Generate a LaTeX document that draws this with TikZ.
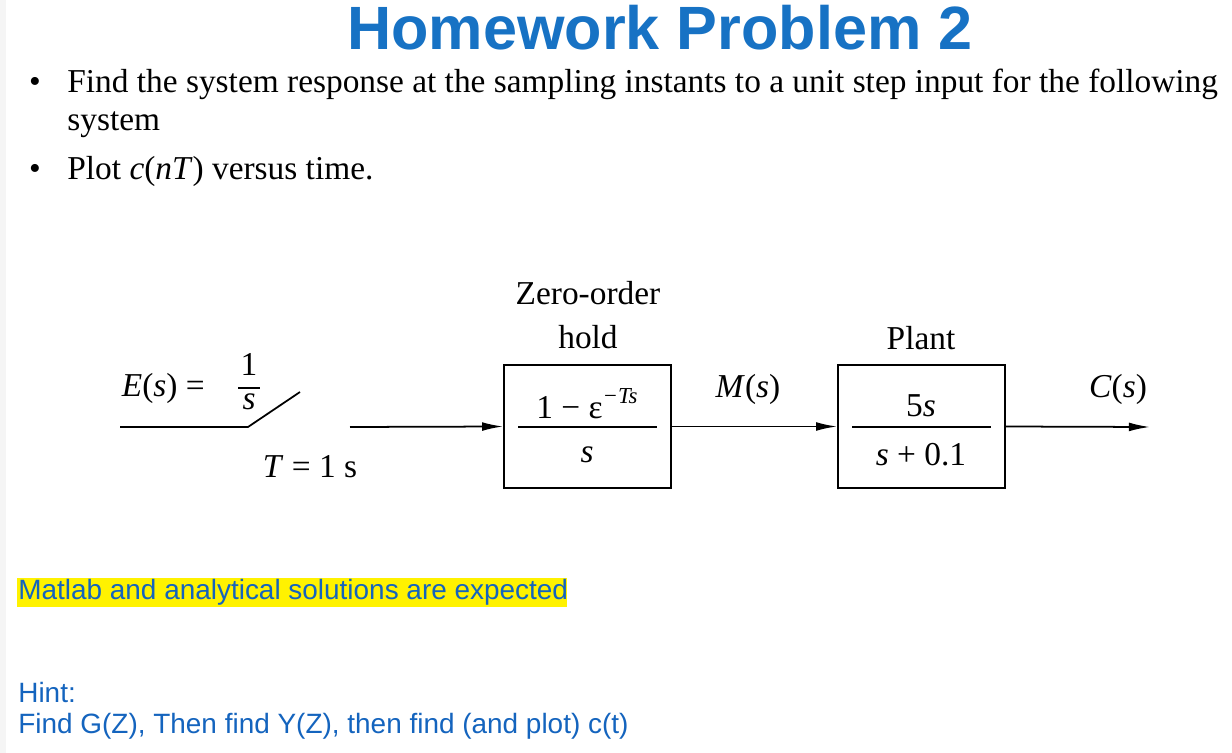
\documentclass[tikz,border=0pt]{standalone}
\usepackage{fontspec}
\setmainfont{Liberation Serif}
\setsansfont{Liberation Sans}
\usetikzlibrary{arrows.meta}
\definecolor{titleblue}{RGB}{23,114,196}
\definecolor{hintblue}{RGB}{20,100,190}
\tikzset{
  px/.style={x=0.02cm,y=-0.02cm},
  body/.style={font=\fontsize{19}{22}\selectfont, inner sep=0pt},
  diag/.style={font=\fontsize{19}{22}\selectfont, inner sep=0pt},
  blk/.style={draw, line width=1pt},
  wire/.style={line width=1pt},
  arr/.style={wire, -{Latex[length=12pt,width=5pt]}},
  note/.style={font=\sffamily\fontsize{15.9}{18}\selectfont, text=hintblue, inner sep=0pt, anchor=west}
}
\begin{document}
\begin{tikzpicture}[px]
\useasboundingbox (0,0) rectangle (1232,753);
\fill[white] (0,0) rectangle (1232,753);
\fill[gray!8] (0,0) rectangle (6,753);
\node[font=\sffamily\bfseries\fontsize{34.8}{38}\selectfont, text=titleblue, inner sep=0pt] (title) at (660,28) {Homework Problem 2};
\node[body] (b1) at (35,85) {•};
\node[body, anchor=west] (t1) at (67,84) {Find the system response at the sampling instants to a unit step input for the following};
\node[body, anchor=west] (t1b) at (67,125) {system};
\node[body] (b2) at (35,172) {•};
\node[body, anchor=west] (t2) at (67,171) {Plot \textit{c}(\textit{nT}) versus time.};
% diagram
\node[diag] (zoh1) at (588,293) {Zero-order};
\node[diag] (zoh2) at (588,337) {hold};
\node[diag] (plant) at (921,338) {Plant};
\node[blk, minimum width=3.34cm, minimum height=2.46cm] (box1) at (587.5,426.5) {};
\node[blk, minimum width=3.34cm, minimum height=2.46cm] (box2) at (921.5,426.5) {};
\draw[wire] (518,427) -- (657,427);
\draw[wire] (852,427) -- (991,427);
\node[diag] (n1) at (587,404) {1 − ε\raisebox{0.45em}{\fontsize{13}{14}\selectfont\textit{−Ts}}};
\node[diag] (d1) at (587,455) {\textit{s}};
\node[diag] (n2) at (921,406) {5\textit{s}};
\node[diag] (d2) at (921,455) {\textit{s} + 0.1};
\coordinate (in0) at (120,427);
\coordinate (sw0) at (248,427);
\coordinate (sw1) at (300,392);
\coordinate (in1) at (350,427);
\coordinate (out) at (1150,427);
\draw[wire] (in0) -- (sw0) -- (sw1);
\draw[arr] (in1) -- (box1.west);
\draw[arr] (box1.east) -- (box2.west);
\draw[arr] (box2.east) -- (out);
\node[diag, anchor=east] (E) at (205,388) {\textit{E}(\textit{s}) =};
\node[diag] (En) at (249,364) {1};
\draw[wire, line width=0.8pt] (238,388) -- (260,388);
\node[diag] (Ed) at (249,402) {\textit{s}};
\node[diag] (T) at (310,467) {\textit{T} = 1 s};
\node[diag] (M) at (748,389) {\textit{M}(\textit{s})};
\node[diag] (C) at (1118,389) {\textit{C}(\textit{s})};
% notes
\fill[yellow] (17,578) rectangle (567,607);
\node[note] (m) at (18,592) {Matlab and analytical solutions are expected};
\node[note] (h) at (18,692) {Hint:};
\node[note] (h2) at (18,726) {Find G(Z), Then find Y(Z), then find (and plot) c(t)};
\end{tikzpicture}
\end{document}
